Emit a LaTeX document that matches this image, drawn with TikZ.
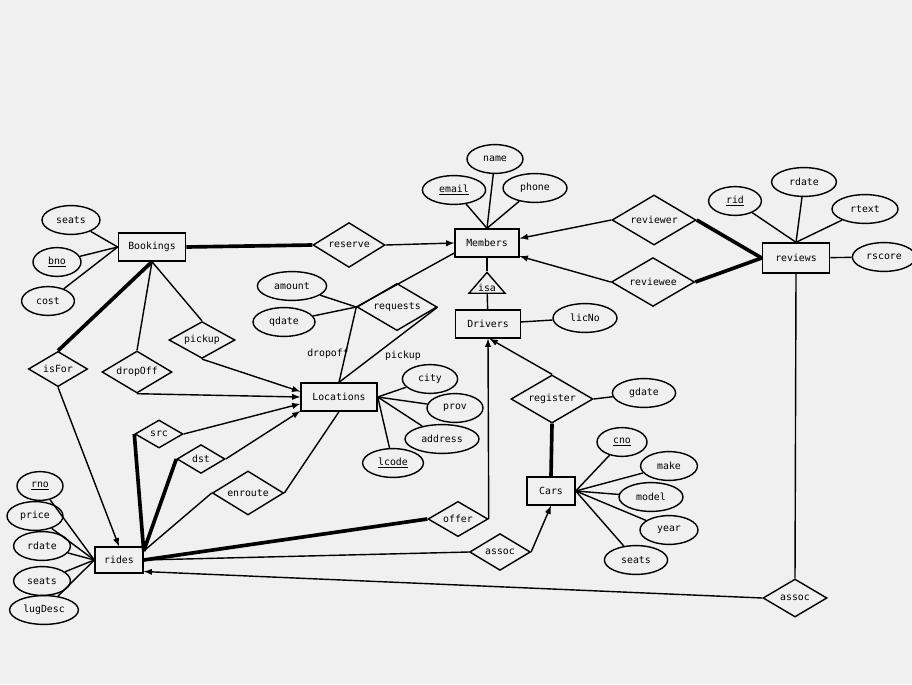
\documentclass[tikz,border=0pt]{standalone}
\usepackage{fontspec}
\setmonofont{DejaVu Sans Mono}
\usetikzlibrary{shapes,shapes.geometric,arrows}

\begin{document}
\begin{tikzpicture}
   [x=0.025cm,y=-0.025cm,line width=1pt,>=latex,
   font=\ttfamily\fontsize{7}{8}\selectfont,
   ent/.style={rectangle,draw,line width=1pt,minimum width=1.68cm,minimum height=0.7cm,inner sep=1pt},
   attr/.style={ellipse,draw,line width=1pt,minimum width=1.45cm,minimum height=0.72cm,inner sep=0pt},
   rel/.style={diamond,draw,line width=1pt,aspect=1.75,inner sep=0pt},
   tk/.style={line width=2.6pt}]
   \fill[black!6] (0,0) rectangle (912,684);
   \useasboundingbox (0,0) rectangle (912,684);
   \node[ent] (bk) at (152,247) {Bookings};
   \node[ent,minimum width=1.6cm] (mem) at (487,243) {Members};
   \node[ent,minimum width=1.62cm] (drv) at (488,324) {Drivers};
   \node[ent,minimum width=1.9cm] (loc) at (339,397) {Locations};
   \node[ent,minimum width=1.2cm] (car) at (551,491) {Cars};
   \node[ent,minimum width=1.2cm,minimum height=0.65cm] (rd) at (119,560) {rides};
   \node[ent,minimum width=1.68cm,minimum height=0.75cm] (rv) at (796,258) {reviews};
   \node[draw,line width=1pt,isosceles triangle,shape border rotate=90,isosceles triangle stretches,
   	minimum width=0.9cm,minimum height=0.52cm,inner sep=0pt,
   	label={[inner sep=0pt,yshift=-2pt]center:isa}] (isa) at (487,285) {};
   \node[attr] (bst) at (71,220) {seats};
   \node[attr,minimum width=1.2cm] (bno) at (57,262) {\underline{bno}};
   \node[attr,minimum width=1.32cm] (cost) at (48,301) {cost};
   \node[attr,minimum width=1.4cm] (nm) at (495,159) {name};
   \node[attr,minimum width=1.58cm] (em) at (454,190) {\underline{email}};
   \node[attr,minimum width=1.6cm] (ph) at (535,188) {phone};
   \node[attr,minimum width=1.73cm] (amt) at (292,286) {amount};
   \node[attr,minimum width=1.55cm] (qd) at (284,322) {qdate};
   \node[attr,minimum width=1.6cm] (lic) at (585,318) {licNo};
   \node[attr,minimum width=1.38cm] (city) at (430,379) {city};
   \node[attr,minimum width=1.4cm] (prov) at (455,408) {prov};
   \node[attr,minimum width=1.85cm] (addr) at (442,439) {address};
   \node[attr,minimum width=1.52cm] (lc) at (393,463) {\underline{lcode}};
   \node[attr,minimum width=1.58cm] (gd) at (644,393) {gdate};
   \node[attr,minimum width=1.25cm] (cno) at (622,442) {\underline{cno}};
   \node[attr,minimum width=1.42cm] (mk) at (669,466) {make};
   \node[attr,minimum width=1.6cm] (mdl) at (651,497) {model};
   \node[attr,minimum width=1.45cm] (yr) at (669,530) {year};
   \node[attr,minimum width=1.58cm] (cst) at (636,560) {seats};
   \node[attr,minimum width=1.32cm] (rid) at (735,201) {\underline{rid}};
   \node[attr,minimum width=1.62cm] (rdt) at (804,182) {rdate};
   \node[attr,minimum width=1.65cm] (rtx) at (865,209) {rtext};
   \node[attr,minimum width=1.58cm] (rsc) at (884,257) {rscore};
   \node[attr,minimum width=1.15cm] (rno) at (40,486) {\underline{rno}};
   \node[attr,minimum width=1.4cm] (pr) at (35,516) {price};
   \node[attr,minimum width=1.42cm] (rdd) at (42,546) {rdate};
   \node[attr,minimum width=1.42cm] (rst) at (42,581) {seats};
   \node[attr,minimum width=1.72cm] (lug) at (44,610) {lugDesc};
   \node[rel,minimum width=1.8cm,minimum height=1.12cm] (res) at (349,245) {reserve};
   \node[rel,minimum width=2cm,minimum height=1.18cm] (req) at (397,307) {requests};
   \node[rel,minimum width=2.1cm,minimum height=1.25cm] (rvr) at (654,220) {reviewer};
   \node[rel,minimum width=2.08cm,minimum height=1.22cm] (rve) at (653,282) {reviewee};
   \node[rel,minimum width=1.48cm,minimum height=0.88cm] (isf) at (58,369) {isFor};
   \node[rel,minimum width=1.75cm,minimum height=1.05cm] (dof) at (137,372) {dropOff};
   \node[rel,minimum width=1.65cm,minimum height=0.92cm] (pku) at (202,340) {pickup};
   \node[rel,minimum width=1.2cm,minimum height=0.7cm] (src) at (159,434) {src};
   \node[rel,minimum width=1.2cm,minimum height=0.72cm] (dst) at (201,459) {dst};
   \node[rel,minimum width=1.78cm,minimum height=1.1cm] (enr) at (248,493) {enroute};
   \node[rel,minimum width=2.05cm,minimum height=1.2cm] (reg) at (552,399) {register};
   \node[rel,minimum width=1.5cm,minimum height=0.88cm] (off) at (458,519) {offer};
   \node[rel,minimum width=1.52cm,minimum height=0.92cm] (asc) at (500,552) {assoc};
   \node[rel,minimum width=1.6cm,minimum height=0.95cm] (asc2) at (795,598) {assoc};
   \node[inner sep=1pt] (ldo) at (328,354) {dropoff};
   \node[inner sep=1pt] (lpu) at (403,356) {pickup};
   \path
   \foreach \a/\b in {bst/bk.west,bno/bk.west,cost/bk.west,em/mem.north,nm/mem.north,ph/mem.north,
   	rno/rd.west,pr/rd.west,rdd/rd.west,rst/rd.west,lug/rd.west,city/loc.east,prov/loc.east,
   	addr/loc.east,lc/loc.east,cno/car.east,mk/car.east,mdl/car.east,yr/car.east,cst/car.east,
   	rid/rv.north,rdt/rv.north,rtx/rv.north,rsc/rv,lic/drv,mem/isa.apex,isa/drv,gd/reg.east,
   	amt/req.west,qd/req.west,req.west/mem.197,req.west/loc.north,req.east/loc.north,
   	bk.south/dof.north,bk.south/pku.north,rd.20/enr.west,enr.east/loc.south,rd.east/asc.west,
   	rv.south/asc2.north}
   {
   	(\a) edge (\b)
   };
   \path
   \foreach \a/\b in {bk.east/res.west,bk.south/isf.north,rd.20/src.west,rd.20/dst.west,
   	rd.east/off.west,reg.south/car.north,rvr.east/rv.west,rve.east/rv.west}
   {
   	(\a) edge[tk] (\b)
   };
   \path
   \foreach \a/\b in {res.east/mem.west,isf.south/rd.north,dof.south/loc.180,pku.south/loc.172,
   	src.east/loc.190,dst.east/loc.200,off.east/drv.south,reg.north/drv.-84,asc.east/car.south,
   	rvr.west/mem.8,rve.west/mem.-22,asc2.west/rd.-25}
   {
   	(\a) edge[->] (\b)
   };
\end{tikzpicture}
\end{document}
